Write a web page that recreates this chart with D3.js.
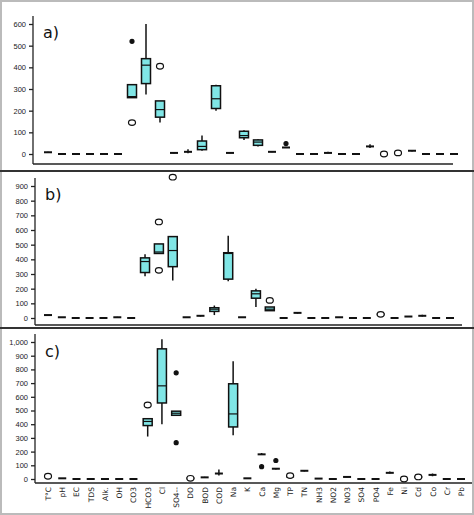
<!DOCTYPE html>
<html><head><meta charset="utf-8">
<script src="https://cdn.jsdelivr.net/npm/d3@7"></script>
<style>body{margin:0;background:#fff}svg{display:block;font-family:"DejaVu Sans",sans-serif}</style>
</head><body><svg id="chart" width="474" height="515"></svg>
<script>
const categories = ['T°C','pH','EC','TDS','Alk.','OH','CO3','HCO3','Cl','SO4--','DO','BOD','COD','Na','K','Ca','Mg','TP','TN','NH3','NO2','NO3','SO4','PO4','Fe','Ni','Cd','Co','Cr','Pb'];

// [min, q1, median, q3, max] per category
const statsA = [[8,7,8,9,10],[0,0,0,0,0],[0,0,0,0,0],[0,0,0,0,0],[0,0,0,0,0],[0,0,0,0,0],
	[260,260,265,320,320],[275,325,410,440,600],[145,170,205,245,245],[2,3,5,6,8],[3,5,10,20,22],[15,20,35,60,85],
	[200,210,255,315,320],[3,4,5,6,7],[65,75,85,105,110],[35,40,55,65,68],[8,9,10,11,14],[30,30,30,32,32],
	[0,0,0,0,0],[0,0,0,0,0],[3,4,5,6,10],[0,0,0,0,0],[0,0,0,0,0],[28,30,35,38,45],[0,0,0,0,0],[2,3,5,6,7],
	[12,14,15,16,18],[0,0,0,0,2],[0,0,0,0,2],[0,0,0,0,0]];
const outliersA = [[6,520,true],[6,145,false],[8,405,false],[17,48,true],[24,0,false],[25,5,false]];

const statsB = [[20,20,20,20,20],[5,5,5,5,5],[0,0,0,0,0],[0,0,0,0,0],[0,0,0,0,0],[2,3,5,6,8],[0,0,0,0,0],
	[285,310,385,410,435],[440,440,450,505,505],[255,350,460,555,555],[5,5,5,5,5],[10,12,15,18,20],[20,45,60,70,85],
	[250,265,440,445,560],[5,5,5,5,5],[75,135,165,185,200],[50,50,60,75,75],[0,0,0,0,0],[30,32,35,38,40],
	[0,0,0,0,0],[0,0,0,0,0],[5,5,5,5,5],[0,0,0,0,0],[0,0,0,0,0],[25,25,25,27,27],[0,0,0,0,0],[8,9,10,11,12],
	[10,12,15,15,22],[0,0,0,0,0],[0,0,0,0,0]];
const outliersB = [[8,655,false],[8,325,false],[9,960,false],[16,120,false],[24,25,false]];

const statsC = [[20,20,22,22,22],[5,5,5,5,5],[0,0,0,0,0],[0,0,0,0,0],[0,0,0,0,0],[0,0,0,0,0],[0,0,0,0,0],
	[310,390,420,440,440],[400,555,680,950,1020],[465,465,480,495,495],[3,4,5,6,8],[8,10,12,14,16],[25,25,40,50,70],
	[320,380,475,695,860],[5,5,5,5,5],[175,175,180,190,190],[70,70,75,80,80],[15,15,18,20,22],[55,55,60,62,62],
	[0,2,3,4,5],[0,0,0,0,0],[12,12,15,18,18],[0,0,0,0,0],[0,0,0,0,2],[40,42,45,48,55],[0,0,0,0,0],[12,12,15,18,18],
	[20,25,30,35,40],[0,0,0,2,3],[0,0,0,2,3]];
const outliersC = [[0,20,false],[7,540,false],[9,775,true],[9,265,true],[10,5,false],[15,90,true],[16,135,true],[17,25,false],[25,0,false],[26,15,false]];

const ticksA = [0,100,200,300,400,500,600];
const ticksB = [0,100,200,300,400,500,600,700,800,900];
const ticksC = [0,100,200,300,400,500,600,700,800,900,1000];

const panels = [
	{ label: 'a)', stats: statsA, outliers: outliersA, ticks: ticksA, max: 600, yTop: 24, yZero: 154, axisY: 164, left: 33, right: 453, x0: 48, x1: 454, labelY: 26 },
	{ label: 'b)', stats: statsB, outliers: outliersB, ticks: ticksB, max: 900, yTop: 186, yZero: 318, axisY: 325, left: 35, right: 462, x0: 48, x1: 450, labelY: 188 },
	{ label: 'c)', stats: statsC, outliers: outliersC, ticks: ticksC, max: 1000, yTop: 342, yZero: 479, axisY: 483, left: 35, right: 472, x0: 48, x1: 461, labelY: 345 }
];

const svg = d3.select('#chart');
const boxFill = '#80e6e6';

// panel separators and frame
svg.append('rect').attr('x', 1).attr('y', 1).attr('width', 472).attr('height', 513)
	.attr('fill', 'none').attr('stroke', '#bbb').attr('stroke-width', 2);
[171, 328].forEach(function(y) {
	svg.append('line').attr('x1', 0).attr('x2', 474).attr('y1', y).attr('y2', y)
		.attr('stroke', '#333').attr('stroke-width', 2);
});

panels.forEach(function(p, pi) {
	const g = svg.append('g');
	const y = d3.scaleLinear().domain([0, p.max]).range([p.yZero, p.yTop]);
	const x = d3.scalePoint().domain(categories).range([p.x0, p.x1]);

	const yAxis = g.append('g').attr('transform', 'translate(' + p.left + ',0)')
		.call(d3.axisLeft(y).tickValues(p.ticks).tickSize(4).tickPadding(3));
	yAxis.select('.domain').attr('d', 'M0,' + (p.yTop - 8) + 'V' + p.axisY);
	yAxis.selectAll('text').attr('font-size', 7.5).attr('fill', '#222');
	yAxis.selectAll('line,path').attr('stroke', '#222').attr('stroke-width', 1.3);

	g.append('line').attr('x1', p.left).attr('x2', p.right).attr('y1', p.axisY).attr('y2', p.axisY)
		.attr('stroke', '#222').attr('stroke-width', 1.3);

	g.append('text').attr('x', p.left + 10).attr('y', p.labelY + 12)
		.attr('font-size', 16).attr('fill', '#111').text(p.label);

	const bw = 9;
	p.stats.forEach(function(s, i) {
		const cx = x(categories[i]);
		if (s[4] > s[0]) {
			g.append('line').attr('x1', cx).attr('x2', cx).attr('y1', y(s[0])).attr('y2', y(s[4]))
				.attr('stroke', '#111').attr('stroke-width', 1.5);
		}
		const top = y(s[3]), bot = y(s[1]);
		const isBox = bot - top > 3.5;
		if (isBox) {
			g.append('rect').attr('x', cx - bw / 2).attr('y', top).attr('width', bw).attr('height', bot - top)
				.attr('fill', boxFill).attr('stroke', '#111').attr('stroke-width', 1.5);
			g.append('line').attr('x1', cx - bw / 2).attr('x2', cx + bw / 2)
				.attr('y1', y(s[2])).attr('y2', y(s[2])).attr('stroke', '#111').attr('stroke-width', 1.2);
		} else {
			g.append('rect').attr('x', cx - 4).attr('y', y(s[2]) - 1).attr('width', 8).attr('height', 2)
				.attr('fill', '#111');
		}
	});

	p.outliers.forEach(function(o) {
		g.append('ellipse').attr('cx', x(categories[o[0]])).attr('cy', y(o[1]))
			.attr('rx', o[2] ? 2 : 3.5).attr('ry', o[2] ? 2 : 2.8)
			.attr('fill', o[2] ? '#111' : '#fff').attr('stroke', '#111').attr('stroke-width', 1.2);
	});

	if (pi === 2) {
		categories.forEach(function(c) {
			g.append('text')
				.attr('transform', 'translate(' + (x(c) + 3) + ',' + (p.axisY + 4) + ') rotate(-90)')
				.attr('text-anchor', 'end').attr('font-size', 7.5).attr('fill', '#222').text(c);
		});
	}
});
</script></body></html>
